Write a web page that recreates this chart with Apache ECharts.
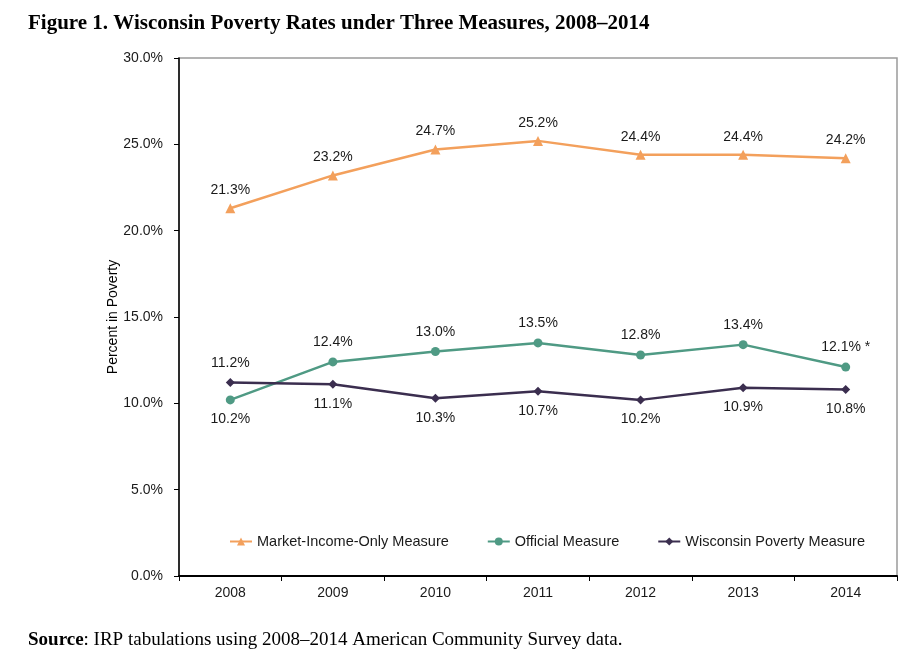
<!DOCTYPE html>
<html>
<head>
<meta charset="utf-8">
<script src="https://cdn.jsdelivr.net/npm/echarts@6/dist/echarts.min.js"></script>
<style>
html,body{margin:0;padding:0;background:#fff;}
#c{width:923px;height:651px;}
</style>
</head>
<body>
<div id="c"></div>
<script>
var years = ['2008','2009','2010','2011','2012','2013','2014'];
var marketIncome = [21.3, 23.2, 24.7, 25.2, 24.4, 24.4, 24.2];
var official = [10.2, 12.4, 13.0, 13.5, 12.8, 13.4, 12.1];
var wisconsin = [11.2, 11.1, 10.3, 10.7, 10.2, 10.9, 10.8];
var officialLabelPos = ['bottom','top','top','top','top','top','top'];
var wisconsinLabelPos = ['top','bottom','bottom','bottom','bottom','bottom','bottom'];
var officialLabelSuffix = ['','','','','','',' *'];
var seriesNames = ['Market-Income-Only Measure','Official Measure','Wisconsin Poverty Measure'];

var FONT = 'Liberation Sans, Arial, sans-serif';
var SERIF = 'Liberation Serif, Times New Roman, serif';
var labelStyle = {show:true, fontFamily:FONT, fontSize:14, color:'#1a1a1a', distance:6};

function fmt(v){ return v.toFixed(1) + '%'; }

var chart = echarts.init(document.getElementById('c'), null, {renderer:'canvas'});
chart.setOption({
  backgroundColor:'#fff',
  animation:false,
  title:[{
    text:'Figure 1. Wisconsin Poverty Rates under Three Measures, 2008\u20132014',
    left:23, top:8,
    textStyle:{fontFamily:SERIF, fontWeight:'bold', fontSize:21, color:'#000'}
  },{
    text:'{b|Source}: IRP tabulations using 2008\u20132014 American Community Survey data.',
    left:23, top:626,
    textStyle:{fontFamily:SERIF, fontWeight:'normal', fontSize:19, color:'#000',
      rich:{b:{fontFamily:SERIF, fontWeight:'bold', fontSize:19, color:'#000'}}}
  }],
  grid:{left:179, right:26, top:58, bottom:75, show:true, borderColor:'#9a9a9a', borderWidth:1.5, containLabel:false},
  legend:{
    left:224, top:529,
    itemGap:38, itemWidth:22, itemHeight:10,
    textStyle:{fontFamily:FONT, fontSize:14.5, color:'#1a1a1a'},
    data:seriesNames
  },
  xAxis:{
    type:'category', data:years, boundaryGap:true,
    axisLine:{lineStyle:{color:'#000', width:2}},
    axisTick:{show:true, alignWithLabel:false, length:5, lineStyle:{color:'#000', width:1}},
    axisLabel:{fontFamily:FONT, fontSize:14, color:'#1a1a1a', margin:10}
  },
  yAxis:{
    type:'value', min:0, max:30, interval:5,
    name:'Percent in Poverty', nameLocation:'middle', nameGap:59, nameMoveOverlap:false,
    nameTextStyle:{fontFamily:FONT, fontSize:14, color:'#000'},
    axisLine:{show:true, lineStyle:{color:'#000', width:1.5}},
    axisTick:{show:true, length:5, lineStyle:{color:'#000', width:1}},
    splitLine:{show:false},
    axisLabel:{fontFamily:FONT, fontSize:14, color:'#1a1a1a', margin:16, formatter:function(v){return v.toFixed(1)+'%';}}
  },
  series:[{
    name:seriesNames[0], type:'line', data:marketIncome,
    symbol:'triangle', symbolSize:10,
    lineStyle:{color:'#F3A05C', width:2.5}, itemStyle:{color:'#F3A05C'},
    label:Object.assign({}, labelStyle, {position:'top', formatter:function(p){return fmt(p.value);}}),
    z:3
  },{
    name:seriesNames[1], type:'line',
    data:official.map(function(v,i){
      return {value:v, label:{position:officialLabelPos[i], formatter:fmt(v)+officialLabelSuffix[i]}};
    }),
    symbol:'circle', symbolSize:9,
    lineStyle:{color:'#4F9A84', width:2.5}, itemStyle:{color:'#4F9A84'},
    label:Object.assign({}, labelStyle, {distance:8}),
    z:3
  },{
    name:seriesNames[2], type:'line',
    data:wisconsin.map(function(v,i){
      return {value:v, label:{position:wisconsinLabelPos[i], formatter:fmt(v)}};
    }),
    symbol:'diamond', symbolSize:9,
    lineStyle:{color:'#3B2E4F', width:2.5}, itemStyle:{color:'#3B2E4F'},
    label:Object.assign({}, labelStyle, {distance:8}),
    z:4
  }]
});
</script>
</body>
</html>
